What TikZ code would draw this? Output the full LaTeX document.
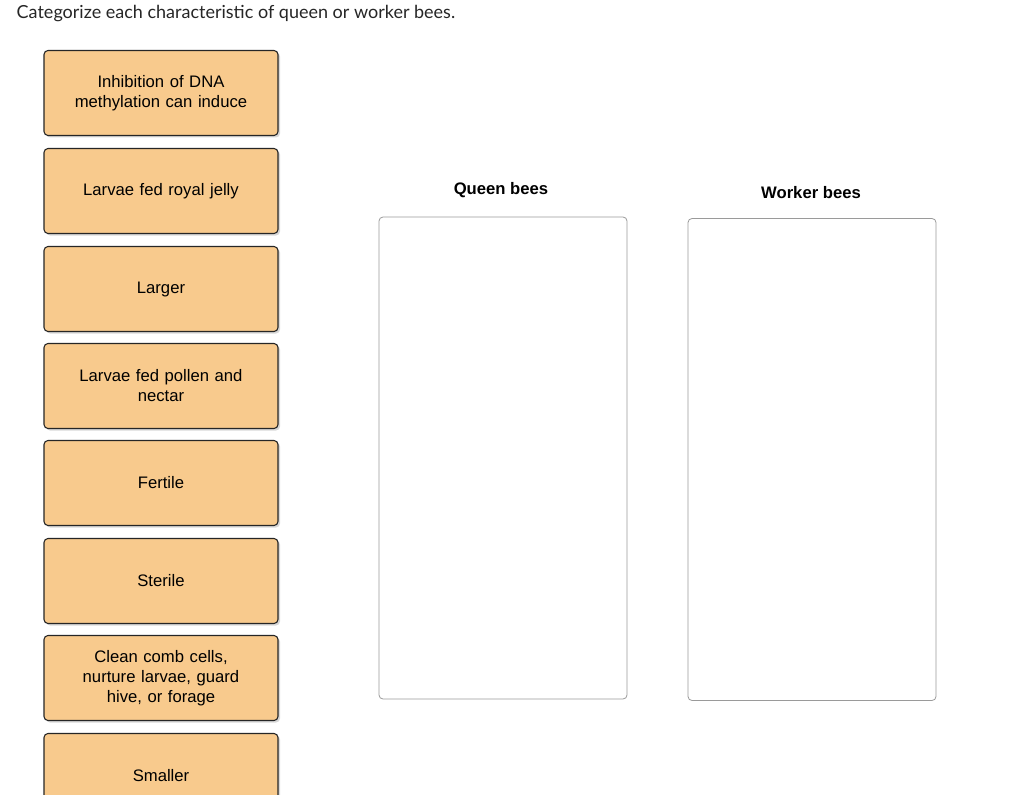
\documentclass[tikz,border=0pt]{standalone}
\usepackage{fontspec}
\setmainfont{Liberation Sans}
\newfontfamily\headfont{Lato}
\usetikzlibrary{positioning,shadows}
\definecolor{cardfill}{HTML}{F8CA8D}
\definecolor{binline}{HTML}{9A9A9A}
\tikzset{
  card/.style={draw=black!85, line width=0.8pt, fill=cardfill, rounded corners=3pt,
    minimum width=175.5pt, minimum height=63.75pt, align=center, text width=165pt,
    font=\fontsize{12.5}{15}\selectfont,
    drop shadow={shadow xshift=1.5pt, shadow yshift=-1.5pt, opacity=0.3}},
  bin/.style={draw=binline, line width=0.6pt, rounded corners=3pt,
    minimum width=186pt, minimum height=361.5pt},
  bintitle/.style={font=\bfseries\fontsize{12.5}{15}\selectfont}
}
\begin{document}
\begin{tikzpicture}[x=0.75pt,y=-0.75pt]
\useasboundingbox[fill=white] (0,0) rectangle (1024,795);
%
\node[anchor=west, font=\headfont\fontsize{13.5}{16}\selectfont, text=black!85] (prompt) at (12,14) {Categorize each characteristic of queen or worker bees.};
%
\node[card] (c1) at (161,93) {Inhibition of DNA\\methylation can induce};
\node[card] (c2) at (161,191) {Larvae fed royal jelly};
\node[card] (c3) at (161,289) {Larger};
\node[card] (c4) at (161,386) {Larvae fed pollen and\\nectar};
\node[card] (c5) at (161,483) {Fertile};
\node[card] (c6) at (161,581) {Sterile};
\node[card] (c7) at (161,678) {Clean comb cells,\\nurture larvae, guard\\hive, or forage};
\node[card] (c8) at (161,776) {Smaller};
%
\node[bin] (queen) at (503,458) {};
\node[bin] (worker) at (812,459.5) {};
\node[bintitle] (tq) at (501,190) {Queen bees};
\node[bintitle] (tw) at (811,193) {Worker bees};
\end{tikzpicture}
\end{document}
